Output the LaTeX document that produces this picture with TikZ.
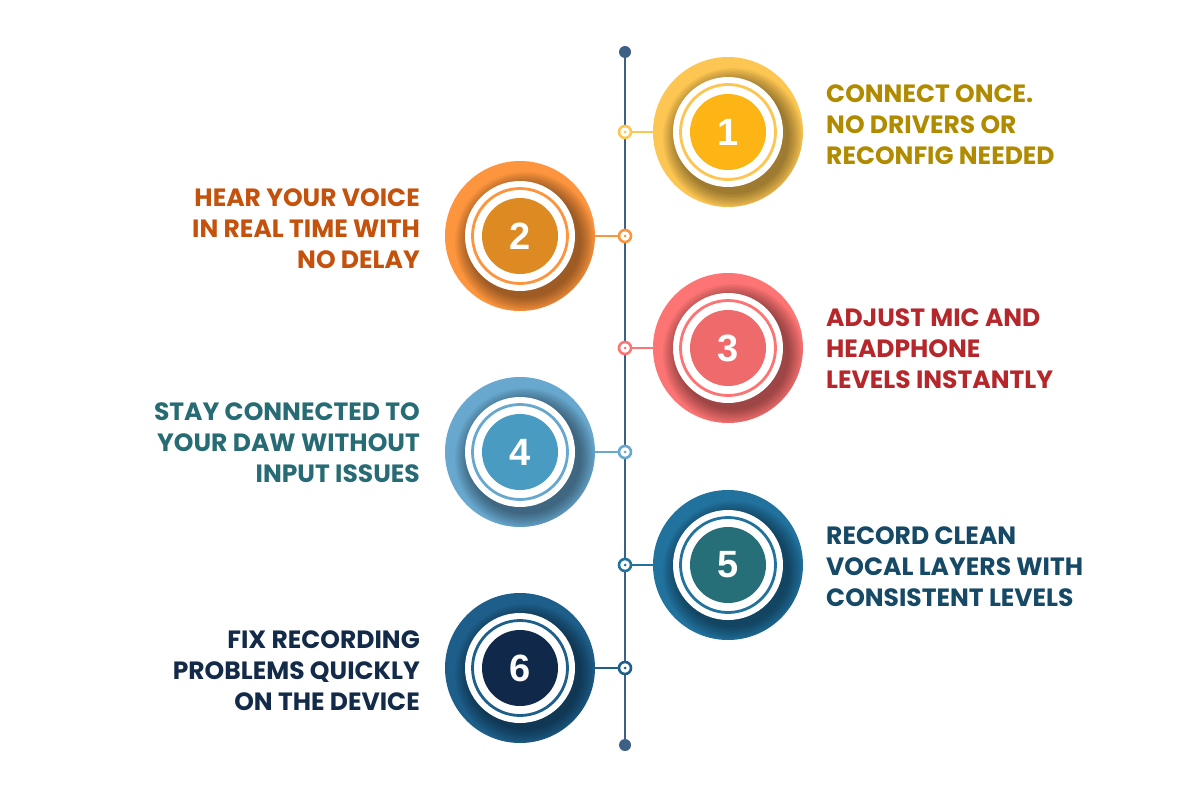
\documentclass[tikz,border=0pt]{standalone}
\usepackage{fontspec}
\setmainfont{Poppins}
\newfontfamily\numfont{Liberation Sans}
\begin{document}
\begin{tikzpicture}[x=1pt,y=-1pt,
  lbl/.style={font=\fontsize{25}{31}\selectfont\bfseries, inner sep=0pt},
  outerc/.style={circle, minimum size=150pt, inner sep=0pt, fill=#1},
  whitec/.style={circle, minimum size=110pt, inner sep=0pt, fill=white},
  ringc/.style={circle, minimum size=95pt, inner sep=0pt, draw=#1, line width=2.8pt},
  innerc/.style={circle, minimum size=76pt, inner sep=0pt, fill=#1, text=white, font=\numfont\bfseries\fontsize{38}{38}\selectfont},
  dotc/.style={circle, minimum size=12pt, inner sep=0pt, draw=#1, line width=2.6pt, fill=white},
  pin/.style={circle, minimum size=3pt, inner sep=0pt, fill=#1},
  endc/.style={circle, minimum size=12pt, inner sep=0pt, fill=trunk},
  conn/.style={draw=#1, line width=2pt}
]
\definecolor{trunk}{HTML}{3E5F86}
\definecolor{o1}{HTML}{FDC652}\definecolor{i1}{HTML}{FDB515}\definecolor{t1}{HTML}{B08B00}
\definecolor{o2}{HTML}{FD953E}\definecolor{i2}{HTML}{DE8A22}\definecolor{t2}{HTML}{C4520C}
\definecolor{o3}{HTML}{FC7473}\definecolor{i3}{HTML}{EF6B6B}\definecolor{t3}{HTML}{B5272A}
\definecolor{o4}{HTML}{68A8CF}\definecolor{i4}{HTML}{4A9BC2}\definecolor{t4}{HTML}{276B74}
\definecolor{o5}{HTML}{22729E}\definecolor{i5}{HTML}{276F78}\definecolor{t5}{HTML}{154966}
\definecolor{o6}{HTML}{1E5E8A}\definecolor{i6}{HTML}{10294A}\definecolor{t6}{HTML}{132B48}
\useasboundingbox (0,0) rectangle (1200,800);
\fill[white] (0,0) rectangle (1200,800);
% trunk
\node[endc] (top) at (625,52) {};
\node[endc] (bot) at (625,745) {};
\draw[trunk, line width=2.8pt] (top) -- (bot);
% items
\foreach \n/\cx/\cy in {1/728/132, 2/520/236, 3/728/348, 4/520/452, 5/728/565, 6/520/668}{
  \node[outerc=o\n] (c\n) at (\cx,\cy) {};
  \begin{scope}
    \clip (\cx,\cy) circle (75);
    \foreach \k in {0,...,10}{
      \fill[black, opacity=0.04] (\cx+5,\cy+6) circle ({56+\k*1.4});
    }
  \end{scope}
  \node[whitec] (w\n) at (\cx,\cy) {};
  \node[ringc=o\n] (r\n) at (\cx,\cy) {};
  \node[innerc=i\n] (n\n) at (\cx,\cy) {\n};
  \node[dotc=o\n] (d\n) at (625,\cy) {};
  \node[pin=o\n] (p\n) at (625,\cy) {};
  \draw[conn=o\n] (d\n) -- (c\n);
}
% labels
\node[lbl, text=t1, anchor=west, align=left] (l1) at (826,125) {CONNECT ONCE.\\NO DRIVERS OR\\RECONFIG NEEDED};
\node[lbl, text=t2, anchor=east, align=right] (l2) at (420,229) {HEAR YOUR VOICE\\IN REAL TIME WITH\\NO DELAY};
\node[lbl, text=t3, anchor=west, align=left] (l3) at (826,349) {ADJUST MIC AND\\HEADPHONE\\LEVELS INSTANTLY};
\node[lbl, text=t4, anchor=east, align=right] (l4) at (420,443) {STAY CONNECTED TO\\YOUR DAW WITHOUT\\INPUT ISSUES};
\node[lbl, text=t5, anchor=west, align=left] (l5) at (826,567) {RECORD CLEAN\\VOCAL LAYERS WITH\\CONSISTENT LEVELS};
\node[lbl, text=t6, anchor=east, align=right] (l6) at (420,671) {FIX RECORDING\\PROBLEMS QUICKLY\\ON THE DEVICE};
\end{tikzpicture}
\end{document}
